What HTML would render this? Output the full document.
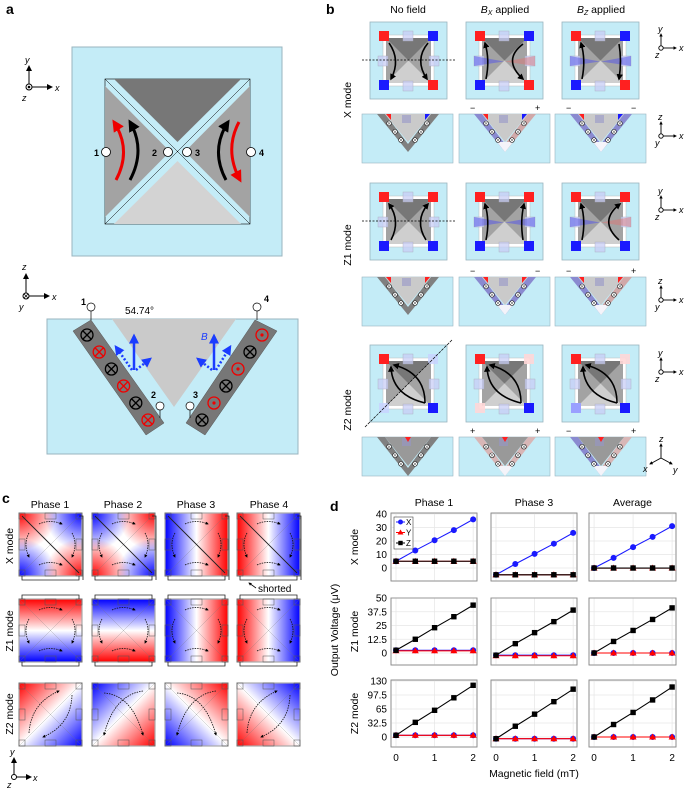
<!DOCTYPE html>
<html><head><meta charset="utf-8">
<style>
html,body{margin:0;padding:0;background:#fff;}
svg{display:block;font-family:"Liberation Sans",sans-serif;}
</style></head>
<body>
<svg id="fig" width="685" height="788" viewBox="0 0 685 788" xmlns="http://www.w3.org/2000/svg">
<defs>
  <marker id="ah" markerWidth="6" markerHeight="6" refX="5" refY="3" orient="auto"><path d="M0,0 L6,3 L0,6z" fill="#000"/></marker>
  <marker id="ahr" markerWidth="4" markerHeight="4" refX="3" refY="2" orient="auto"><path d="M0,0 L4,2 L0,4z" fill="#e00"/></marker>
  <marker id="ahk" markerWidth="4" markerHeight="4" refX="3" refY="2" orient="auto"><path d="M0,0 L4,2 L0,4z" fill="#000"/></marker>
  <marker id="ahb" markerWidth="4" markerHeight="4" refX="3" refY="2" orient="auto"><path d="M0,0 L4,2 L0,4z" fill="#1a3cff"/></marker>
</defs>

<!-- ===== Panel a ===== -->
<g>
  <text x="6" y="14" font-size="14" font-weight="bold">a</text>
  <g stroke="#000" stroke-width="1">
    <line x1="29" y1="87" x2="29" y2="66" marker-end="url(#ah)"/>
    <line x1="29" y1="87" x2="52" y2="87" marker-end="url(#ah)"/>
    <circle cx="29" cy="87" r="3" fill="#fff"/><circle cx="29" cy="87" r="0.8" fill="#000"/>
  </g>
  <text x="25" y="63" font-size="9" font-style="italic">y</text>
  <text x="55" y="91" font-size="9" font-style="italic">x</text>
  <text x="22" y="101" font-size="9" font-style="italic">z</text>
  <rect x="72" y="47" width="210" height="209" fill="#c4ecf7" stroke="#9ab5bf"/>
  <rect x="105" y="79" width="145" height="145" fill="#c4ecf7" stroke="#000" stroke-width="0.6"/>
  <polygon points="114,79 241,79 177.5,142" fill="#777"/>
  <polygon points="114,224 241,224 177.5,161" fill="#d3d3d3"/>
  <polygon points="105,86 105,217 170,151.5" fill="#a3a3a3"/>
  <polygon points="250,86 250,217 185,151.5" fill="#a3a3a3"/>
  <line x1="105" y1="79" x2="250" y2="224" stroke="#000" stroke-width="0.5"/>
  <line x1="250" y1="79" x2="105" y2="224" stroke="#000" stroke-width="0.5"/>
  <path d="M116,180 Q132,150 114,122" fill="none" stroke="#e00" stroke-width="3" marker-end="url(#ahr)"/>
  <path d="M130,180 Q146,150 130,122" fill="none" stroke="#000" stroke-width="3" marker-end="url(#ahk)"/>
  <path d="M226,180 Q210,150 228,122" fill="none" stroke="#000" stroke-width="3" marker-end="url(#ahk)"/>
  <path d="M239,122 Q224,150 240,180" fill="none" stroke="#e00" stroke-width="3" marker-end="url(#ahr)"/>
  <g fill="#fff" stroke="#000" stroke-width="0.8">
    <circle cx="106" cy="152" r="4.5"/><circle cx="168" cy="152" r="4.5"/><circle cx="187" cy="152" r="4.5"/><circle cx="251" cy="152" r="4.5"/>
  </g>
  <g font-size="9" font-weight="bold">
    <text x="94" y="156">1</text><text x="152" y="156">2</text><text x="195" y="156">3</text><text x="259" y="156">4</text>
  </g>

  <g stroke="#000" stroke-width="1">
    <line x1="26" y1="296" x2="26" y2="274" marker-end="url(#ah)"/>
    <line x1="26" y1="296" x2="49" y2="296" marker-end="url(#ah)"/>
    <circle cx="26" cy="296" r="3" fill="#fff"/>
    <line x1="24" y1="294" x2="28" y2="298" stroke-width="0.7"/><line x1="28" y1="294" x2="24" y2="298" stroke-width="0.7"/>
  </g>
  <text x="22" y="270" font-size="9" font-style="italic">z</text>
  <text x="52" y="300" font-size="9" font-style="italic">x</text>
  <text x="19" y="310" font-size="9" font-style="italic">y</text>
  <rect x="47" y="319" width="251" height="135" fill="#c4ecf7" stroke="#9ab5bf"/>
  <polygon points="112,319 236,319 174,407" fill="#cacaca"/>
  <polygon points="73,331 91,320 164,423 146,435" fill="#777" stroke="#555" stroke-width="0.5"/>
  <polygon points="255,320 277,331 205,435 186,423" fill="#777" stroke="#555" stroke-width="0.5"/>
  <g id="crossCircles"></g>
  <g stroke="#1a3cff" stroke-width="2.5">
    <line x1="134" y1="370" x2="134" y2="336" marker-end="url(#ahb)"/>
    <line x1="214" y1="370" x2="214" y2="336" marker-end="url(#ahb)"/>
    <line x1="132" y1="370" x2="116" y2="347" stroke-dasharray="2,2" marker-end="url(#ahb)"/>
    <line x1="136" y1="370" x2="150" y2="359" stroke-dasharray="2,2" marker-end="url(#ahb)"/>
    <line x1="216" y1="370" x2="230" y2="347" stroke-dasharray="2,2" marker-end="url(#ahb)"/>
    <line x1="212" y1="370" x2="198" y2="359" stroke-dasharray="2,2" marker-end="url(#ahb)"/>
  </g>
  <text x="201" y="340" font-size="10" font-style="italic" fill="#1a3cff">B</text>
  <text x="125" y="314" font-size="10">54.74°</text>
  <g stroke="#000" stroke-width="0.7" fill="#fff">
    <line x1="91" y1="311" x2="91" y2="320"/><circle cx="91" cy="307" r="4"/>
    <line x1="257" y1="311" x2="257" y2="320"/><circle cx="257" cy="307" r="4"/>
    <line x1="160" y1="410" x2="160" y2="418"/><circle cx="160" cy="406" r="4"/>
    <line x1="190" y1="410" x2="190" y2="418"/><circle cx="190" cy="406" r="4"/>
  </g>
  <g font-size="9" font-weight="bold"><text x="81" y="305">1</text><text x="264" y="302">4</text><text x="151" y="398">2</text><text x="193" y="398">3</text></g>
</g>

<!-- ===== Panel b ===== -->
<g id="panelB">
  <text x="326" y="14" font-size="14" font-weight="bold">b</text>
  <text x="408" y="13" font-size="10.5" text-anchor="middle">No field</text>
  <text x="505" y="13" font-size="10.5" text-anchor="middle"><tspan font-style="italic">B</tspan><tspan font-size="7" dy="2" font-style="italic">X</tspan><tspan dy="-2"> applied</tspan></text>
  <text x="601" y="13" font-size="10.5" text-anchor="middle"><tspan font-style="italic">B</tspan><tspan font-size="7" dy="2" font-style="italic">Z</tspan><tspan dy="-2"> applied</tspan></text>
  <text transform="translate(351,100) rotate(-90)" font-size="10.5" text-anchor="middle">X mode</text>
  <text transform="translate(351,245) rotate(-90)" font-size="10.5" text-anchor="middle">Z1 mode</text>
  <text transform="translate(351,410) rotate(-90)" font-size="10.5" text-anchor="middle">Z2 mode</text>
</g>

<!-- ===== Panel c ===== -->
<g id="panelC">
  <text x="2" y="503" font-size="14" font-weight="bold">c</text>
  <text x="50" y="508" font-size="10.5" text-anchor="middle">Phase 1</text>
  <text x="123" y="508" font-size="10.5" text-anchor="middle">Phase 2</text>
  <text x="196" y="508" font-size="10.5" text-anchor="middle">Phase 3</text>
  <text x="269" y="508" font-size="10.5" text-anchor="middle">Phase 4</text>
  <text transform="translate(13,546) rotate(-90)" font-size="10.5" text-anchor="middle">X mode</text>
  <text transform="translate(13,631) rotate(-90)" font-size="10.5" text-anchor="middle">Z1 mode</text>
  <text transform="translate(13,714) rotate(-90)" font-size="10.5" text-anchor="middle">Z2 mode</text>
  <text x="258" y="592" font-size="10">shorted</text>
  <line x1="256" y1="588" x2="249" y2="583" stroke="#000" stroke-width="0.8" marker-end="url(#ahk)"/>
  <g stroke="#000" stroke-width="1">
    <line x1="14" y1="777" x2="14" y2="758" marker-end="url(#ah)"/>
    <line x1="14" y1="777" x2="31" y2="777" marker-end="url(#ah)"/>
    <circle cx="14" cy="777" r="2.5" fill="#fff"/>
  </g>
  <text x="10" y="755" font-size="9" font-style="italic">y</text>
  <text x="33" y="781" font-size="9" font-style="italic">x</text>
  <text x="7" y="788" font-size="9" font-style="italic">z</text>
</g>

<!-- ===== Panel d ===== -->
<g id="panelD">
  <text x="330" y="511" font-size="14" font-weight="bold">d</text>
  <text transform="translate(338,630) rotate(-90)" font-size="10.5" text-anchor="middle">Output Voltage (μV)</text>
  <text x="534" y="777" font-size="10.5" text-anchor="middle">Magnetic field (mT)</text>
</g>
</svg>

<script>
// ---------- Panel d data ----------
const fieldValues = [0, 0.5, 1, 1.5, 2];
const colTitles = ["Phase 1", "Phase 3", "Average"];
const rowTitles = ["X mode", "Z1 mode", "Z2 mode"];
const xTickLabels = [0, 1, 2];
const yTicksX = [0, 10, 20, 30, 40];
const yTicksZ1 = [0, 12.5, 25, 37.5, 50];
const yTicksZ2 = [0, 32.5, 65, 97.5, 130];
// X mode
const xModeP1_X = [5, 13, 20.5, 28, 36];
const xModeP1_Y = [5, 5, 5, 5, 5];
const xModeP1_Z = [5, 5, 5, 5, 5];
const xModeP3_X = [-5, 3, 10.5, 18, 26];
const xModeP3_Y = [-5, -5, -5, -5, -5];
const xModeP3_Z = [-5, -5, -5, -5, -5];
const xModeAv_X = [0, 7.5, 15.5, 23, 31];
const xModeAv_Y = [0, 0, 0, 0, 0];
const xModeAv_Z = [0, 0, 0, 0, 0];
// Z1 mode
const z1P1_X = [2.5, 2.5, 2.5, 2.5, 2.5];
const z1P1_Y = [2, 2, 2, 2, 2];
const z1P1_Z = [2.5, 12.5, 23, 33, 43.5];
const z1P3_X = [-2, -2, -2, -2, -2];
const z1P3_Y = [-2.5, -2.5, -2.5, -2.5, -2.5];
const z1P3_Z = [-2, 8.5, 18.5, 28.5, 39];
const z1Av_X = [0, 0, 0, 0, 0];
const z1Av_Y = [0, 0, 0, 0, 0];
const z1Av_Z = [0, 10.5, 20.5, 30.5, 41];
// Z2 mode
const z2P1_X = [4, 4, 4, 4, 4];
const z2P1_Y = [4, 4, 4, 4, 4];
const z2P1_Z = [4, 34, 62, 91, 120];
const z2P3_X = [-4, -4, -4, -4, -4];
const z2P3_Y = [-4, -4, -4, -4, -4];
const z2P3_Z = [-4, 25, 53, 82, 111];
const z2Av_X = [0, 0, 0, 0, 0];
const z2Av_Y = [0, 0, 0, 0, 0];
const z2Av_Z = [0, 29, 57, 86, 116];
const seriesNames = ["X", "Y", "Z"];

const NS = "http://www.w3.org/2000/svg";
function mk(tag, attrs, parent) {
  const e = document.createElementNS(NS, tag);
  for (const k in attrs) e.setAttribute(k, attrs[k]);
  parent.appendChild(e);
  return e;
}

const panelD = document.getElementById("panelD");
const colX = [[391, 477], [491, 577], [589, 676]];
const rowY = [[513, 581], [598, 665], [680, 747]];
const yDom = [[-9.6, 40.7], [-10.9, 50], [-23.2, 132.3]];
const yTickSets = [yTicksX, yTicksZ1, yTicksZ2];
const data = [
  [[xModeP1_X, xModeP1_Y, xModeP1_Z], [xModeP3_X, xModeP3_Y, xModeP3_Z], [xModeAv_X, xModeAv_Y, xModeAv_Z]],
  [[z1P1_X, z1P1_Y, z1P1_Z], [z1P3_X, z1P3_Y, z1P3_Z], [z1Av_X, z1Av_Y, z1Av_Z]],
  [[z2P1_X, z2P1_Y, z2P1_Z], [z2P3_X, z2P3_Y, z2P3_Z], [z2Av_X, z2Av_Y, z2Av_Z]]
];
const colors = ["#1a1aff", "#ff0000", "#000"];
const xDom = [-0.13, 2.1];

for (let c = 0; c < 3; c++) {
  const t = mk("text", {x: (colX[c][0] + colX[c][1]) / 2, y: 506, "font-size": 10.5, "text-anchor": "middle"}, panelD);
  
  
  t.textContent = colTitles[c];
}
for (let r = 0; r < 3; r++) {
  const t = mk("text", {transform: `translate(358,${(rowY[r][0] + rowY[r][1]) / 2}) rotate(-90)`, "font-size": 10.5, "text-anchor": "middle"}, panelD);
  
  
  t.textContent = rowTitles[r];
  for (let c = 0; c < 3; c++) {
    const [x0, x1] = colX[c], [y0, y1] = rowY[r];
    const sx = v => x0 + (v - xDom[0]) / (xDom[1] - xDom[0]) * (x1 - x0);
    const sy = v => y1 - (v - yDom[r][0]) / (yDom[r][1] - yDom[r][0]) * (y1 - y0);
    const g = mk("g", {}, panelD);
    
    
    mk("rect", {x: x0, y: y0, width: x1 - x0, height: y1 - y0, fill: "#fff", stroke: "#888", "stroke-width": 0.8}, g);
    xTickLabels.forEach(v => {
      const gl = mk("line", {x1: sx(v), x2: sx(v), y1: y0, y2: y1, stroke: "#e6e6e6", "stroke-width": 0.7}, g);
      
      
      if (r === 2) {
        const tl = mk("text", {x: sx(v), y: 761, "font-size": 10, "text-anchor": "middle"}, g);
        
        
        tl.textContent = v;
      }
    });
    yTickSets[r].forEach(v => {
      const gl = mk("line", {x1: x0, x2: x1, y1: sy(v), y2: sy(v), stroke: "#e6e6e6", "stroke-width": 0.7}, g);
      
      
      if (c === 0) {
        const tl = mk("text", {x: x0 - 4, y: sy(v) + 3.5, "font-size": 10, "text-anchor": "end"}, g);
        
        
        tl.textContent = v;
      }
    });
    mk("rect", {x: x0, y: y0, width: x1 - x0, height: y1 - y0, fill: "none", stroke: "#888", "stroke-width": 0.8}, g);
    data[r][c].forEach((ser, si) => {
      const pts = ser.map((v, i) => sx(fieldValues[i]) + "," + sy(v)).join(" ");
      const ln = mk("polyline", {points: pts, fill: "none", stroke: colors[si], "stroke-width": 1.1}, g);
      
      
      ser.forEach((v, i) => {
        const px = sx(fieldValues[i]), py = sy(v);
        let m;
        if (si === 0) m = mk("circle", {cx: px, cy: py, r: 3, fill: colors[0]}, g);
        else if (si === 1) m = mk("polygon", {points: `${px},${py - 3.5} ${px - 3.5},${py + 2.5} ${px + 3.5},${py + 2.5}`, fill: colors[1]}, g);
        else m = mk("rect", {x: px - 2.7, y: py - 2.7, width: 5.4, height: 5.4, fill: colors[2]}, g);
        
        
      });
    });
  }
}
// legend
{
  const lg = mk("g", {}, panelD);
  
  
  mk("rect", {x: 394, y: 517, width: 19, height: 32, fill: "#fff", stroke: "#444", "stroke-width": 0.6}, lg);
  seriesNames.forEach((n, i) => {
    const yy = 522 + i * 10.5;
    const e = mk("g", {}, lg);
    
    
    mk("line", {x1: 396, x2: 405, y1: yy, y2: yy, stroke: colors[i], "stroke-width": 1}, e);
    if (i === 0) mk("circle", {cx: 400.5, cy: yy, r: 2.5, fill: colors[0]}, e);
    else if (i === 1) mk("polygon", {points: `400.5,${yy - 3} 397.5,${yy + 2} 403.5,${yy + 2}`, fill: colors[1]}, e);
    else mk("rect", {x: 398.3, y: yy - 2.2, width: 4.4, height: 4.4, fill: "#000"}, e);
    const t = mk("text", {x: 406, y: yy + 3, "font-size": 8}, e);
    t.textContent = n;
  });
}

// ---------- Panel a current symbols ----------
{
  const g = document.getElementById("crossCircles");
  for (let i = 0; i < 6; i++) {
    const f = i / 5;
    const lx = 87 + f * 61, ly = 335 + f * 85;
    const rx = 262 - f * 60, ry = 335 + f * 85;
    const lc = i % 2 ? "#e00" : "#000";
    const rc = i % 2 ? "#000" : "#e00";
    const a = mk("circle", {cx: lx, cy: ly, r: 6, fill: "none", stroke: lc, "stroke-width": 1.3}, g);
    
    
    mk("path", {d: `M${lx - 4},${ly - 4}L${lx + 4},${ly + 4}M${lx + 4},${ly - 4}L${lx - 4},${ly + 4}`, stroke: lc, "stroke-width": 1.3}, g);
    const b = mk("circle", {cx: rx, cy: ry, r: 6, fill: "none", stroke: rc, "stroke-width": 1.3}, g);
    
    
    if (i % 2) mk("path", {d: `M${rx - 4},${ry - 4}L${rx + 4},${ry + 4}M${rx + 4},${ry - 4}L${rx - 4},${ry + 4}`, stroke: rc, "stroke-width": 1.3}, g);
    else mk("circle", {cx: rx, cy: ry, r: 1.6, fill: rc}, g);
  }
}

// ---------- Panel b ----------
{
  const pb = document.getElementById("panelB");
  const cols = [370, 466, 562];
  const csCols = [362, 459, 555];
  const topY = [22, 183, 345];
  const csY = [114, 277, 437];
  const R = "#ff2020", B = "#1a1aff", F = "rgba(200,210,255,0.8)", FR = "rgba(255,215,215,0.9)";
  // corner pad colors [TL,TR,BL,BR]
  const pads = [
    [[R, B, B, R], [R, B, B, R], [R, B, B, R]],
    [[R, R, B, B], [R, R, B, B], [R, R, B, B]],
    [[R, F, F, B], [R, FR, FR, B], [R, FR, "#9aa0ff", B]]
  ];
  for (let r = 0; r < 3; r++) {
    for (let c = 0; c < 3; c++) {
      const x = cols[c], y = topY[r];
      const g = mk("g", {}, pb);
      
      
      mk("rect", {x: x, y: y, width: 77, height: 77, fill: "#c4ecf7", stroke: "#9ab5bf", "stroke-width": 0.8}, g);
      mk("rect", {x: x + 13, y: y + 13, width: 51, height: 51, fill: "#fff", stroke: "#bbb", "stroke-width": 0.5}, g);
      const ix = x + 16, iy = y + 16, s = 45;
      mk("rect", {x: ix, y: iy, width: s, height: s, fill: "#a3a3a3"}, g);
      mk("polygon", {points: `${ix},${iy} ${ix + s},${iy} ${ix + s / 2},${iy + s / 2}`, fill: "#777"}, g);
      mk("polygon", {points: `${ix},${iy + s} ${ix + s},${iy + s} ${ix + s / 2},${iy + s / 2}`, fill: "#cfcfcf"}, g);
      // mid pads
      [[x + 33, y + 9], [x + 33, y + 59], [x + 8, y + 34], [x + 59, y + 34]].forEach(p => {
        mk("rect", {x: p[0], y: p[1], width: 10, height: 10, fill: "rgba(200,205,245,0.75)", stroke: "#aab", "stroke-width": 0.4}, g);
      });
      if (r < 2 && c > 0) {
        const lc = "rgba(90,90,230,0.55)";
        const rc = (r === 0 && c === 1) || (r === 1 && c === 2) ? "rgba(220,120,120,0.5)" : lc;
        mk("polygon", {points: `${x + 8},${y + 34} ${x + 8},${y + 44} ${x + 38},${y + 39.5}`, fill: lc}, g);
        mk("polygon", {points: `${x + 69},${y + 34} ${x + 69},${y + 44} ${x + 39},${y + 39.5}`, fill: rc}, g);
      }
      const pc = pads[r][c];
      [[x + 9, y + 9], [x + 58, y + 9], [x + 9, y + 58], [x + 58, y + 58]].forEach((p, i) => {
        const pad = mk("rect", {x: p[0], y: p[1], width: 10, height: 10, fill: pc[i]}, g);
        
        
      });
      // arrows
      let paths;
      if (r === 0) paths = c === 0 ? [`M${x + 19},${y + 21} Q${x + 31},${y + 38} ${x + 21},${y + 57}`, `M${x + 58},${y + 21} Q${x + 44},${y + 38} ${x + 57},${y + 57}`]
        : [`M${x + 20},${y + 57} Q${x + 24},${y + 38} ${x + 19},${y + 21}`, c === 1 ? `M${x + 57},${y + 22} Q${x + 36},${y + 38} ${x + 57},${y + 57}` : `M${x + 57},${y + 22} Q${x + 60},${y + 38} ${x + 57},${y + 57}`];
      else if (r === 1) paths = c === 0 ? [`M${x + 21},${y + 57} Q${x + 31},${y + 38} ${x + 19},${y + 21}`, `M${x + 56},${y + 57} Q${x + 44},${y + 38} ${x + 58},${y + 21}`]
        : [`M${x + 20},${y + 57} Q${x + 24},${y + 38} ${x + 19},${y + 21}`, c === 1 ? `M${x + 57},${y + 57} Q${x + 54},${y + 38} ${x + 58},${y + 21}` : `M${x + 57},${y + 57} Q${x + 36},${y + 38} ${x + 58},${y + 21}`];
      else paths = [`M${x + 55},${y + 58} Q${x + 22},${y + 50} ${x + 21},${y + 22}`, `M${x + 55},${y + 58} Q${x + 55},${y + 28} ${x + 24},${y + 20}`];
      paths.forEach(d => {
        const a = mk("path", {d: d, fill: "none", stroke: "#000", "stroke-width": 1.6, "marker-end": "url(#ahk)"}, g);
        
        
      });
      if (c === 0 && r < 2) mk("line", {x1: x - 8, x2: x + 85, y1: y + 38, y2: y + 38, stroke: "#000", "stroke-width": 0.7, "stroke-dasharray": "2,1.5"}, g);
      if (c === 0 && r === 2) mk("line", {x1: x - 5, y1: y + 82, x2: x + 82, y2: y - 5, stroke: "#000", "stroke-width": 0.7, "stroke-dasharray": "3,1"}, g);

      // cross section
      const cx = csCols[c], cy = csY[r], w = 91, h = r === 2 ? 39 : 49;
      const cs = mk("g", {}, pb);
      
      
      mk("rect", {x: cx, y: cy, width: w, height: h, fill: "#c4ecf7", stroke: "#9ab5bf", "stroke-width": 0.6}, cs);
      const tipY = r === 2 ? cy + 39 : cy + 38;
      let armL = "#808080", armR = "#808080";
      if (c > 0) {
        armL = "#8a8ad0"; armR = (r === 0 && c === 1) || (r === 1 && c === 2) ? "#d0a8a8" : "#8a8ad0";
        if (r === 2) { armL = c === 1 ? "#d8b6b6" : "#8a8ad0"; armR = "#d8b6b6"; }
      }
      mk("polygon", {points: `${cx + 15},${cy} ${cx + 23},${cy} ${cx + 46},${tipY - 8} ${cx + 46},${tipY}`, fill: armL}, cs);
      mk("polygon", {points: `${cx + 77},${cy} ${cx + 69},${cy} ${cx + 46},${tipY - 8} ${cx + 46},${tipY}`, fill: armR}, cs);
      if (c > 0) mk("polygon", {points: `${cx + 38},${tipY - 10} ${cx + 54},${tipY - 10} ${cx + 46},${tipY}`, fill: "#f4f4fa"}, cs);
      mk("polygon", {points: `${cx + 23},${cy} ${cx + 69},${cy} ${cx + 46},${tipY - 10}`, fill: r === 2 ? "#999" : "#cacaca"}, cs);
      mk("rect", {x: cx + 40, y: cy + 1, width: 9, height: 8, fill: "rgba(150,150,200,0.6)"}, cs);
      const tri = r === 2 ? [[cx + 43, cy, cx + 49, cy, cx + 46, cy + 5]] :
        [[cx + 24, cy, cx + 29, cy, cx + 29, cy + 6], [cx + 63, cy, cx + 68, cy, cx + 63, cy + 6]];
      const triCol = r === 0 ? [R, B] : [R, R];
      tri.forEach((t, i) => mk("polygon", {points: `${t[0]},${t[1]} ${t[2]},${t[3]} ${t[4]},${t[5]}`, fill: triCol[i] || R}, cs));
      for (let k = 0; k < 3; k++) {
        const f = 0.3 + k * 0.22;
        [[cx + 19 + f * 27, cy + f * (tipY - cy) - 2], [cx + 73 - f * 27, cy + f * (tipY - cy) - 2]].forEach(p => {
          mk("circle", {cx: p[0], cy: p[1], r: 2.4, fill: "#fff", stroke: "#222", "stroke-width": 0.6}, cs);
          mk("path", {d: `M${p[0] - 1.5},${p[1] - 1.5}L${p[0] + 1.5},${p[1] + 1.5}M${p[0] + 1.5},${p[1] - 1.5}L${p[0] - 1.5},${p[1] + 1.5}`, stroke: "#222", "stroke-width": 0.5}, cs);
        });
      }
      if (c > 0) {
        const signs = [["−", "+", "−", "−"], ["−", "−", "−", "+"], ["+", "+", "−", "+"]][r];
        const sl = signs[(c - 1) * 2], sr = signs[(c - 1) * 2 + 1];
        const a = mk("text", {x: cx + 11, y: cy - 3, "font-size": 9}, cs); a.textContent = sl;
        const b = mk("text", {x: cx + 76, y: cy - 3, "font-size": 9}, cs); b.textContent = sr;
      }
    }
    // axes icons
    const ay = [[48, 136], [210, 300], [372, 458]][r];
    ay.forEach((yy, k) => {
      const ax = 661;
      const g = mk("g", {stroke: "#000", "stroke-width": 0.9}, pb);
      
      
      if (r === 2 && k === 1) {
        mk("line", {x1: ax, y1: yy, x2: ax, y2: yy - 14, "marker-end": "url(#ahk)"}, g);
        mk("line", {x1: ax, y1: yy, x2: ax - 11, y2: yy + 6, "marker-end": "url(#ahk)"}, g);
        mk("line", {x1: ax, y1: yy, x2: ax + 11, y2: yy + 6, "marker-end": "url(#ahk)"}, g);
        const t1 = mk("text", {x: ax - 2, y: yy - 16, "font-size": 9, "font-style": "italic", stroke: "none"}, g); t1.textContent = "z";
        const t2 = mk("text", {x: ax - 18, y: yy + 14, "font-size": 9, "font-style": "italic", stroke: "none"}, g); t2.textContent = "x";
        const t3 = mk("text", {x: ax + 12, y: yy + 15, "font-size": 9, "font-style": "italic", stroke: "none"}, g); t3.textContent = "y";
      } else {
        mk("line", {x1: ax, y1: yy, x2: ax, y2: yy - 14, "marker-end": "url(#ahk)"}, g);
        mk("line", {x1: ax, y1: yy, x2: ax + 15, y2: yy, "marker-end": "url(#ahk)"}, g);
        mk("circle", {cx: ax, cy: yy, r: 2.2, fill: "#fff"}, g);
        const t1 = mk("text", {x: ax - 3, y: yy - 16, "font-size": 9, "font-style": "italic", stroke: "none"}, g); t1.textContent = k === 0 ? "y" : "z";
        const t2 = mk("text", {x: ax + 18, y: yy + 3, "font-size": 9, "font-style": "italic", stroke: "none"}, g); t2.textContent = "x";
        const t3 = mk("text", {x: ax - 6, y: yy + 10, "font-size": 9, "font-style": "italic", stroke: "none"}, g); t3.textContent = k === 0 ? "z" : "y";
      }
    });
  }
}

// ---------- Panel c ----------
{
  const pc = document.getElementById("panelC");
  const defs = document.querySelector("defs");
  const tx = [19, 92, 165, 237], ty = [513, 599, 683], S = 63;
  const RED = "#ff0000", BLU = "#0000ff";
  // tile specs: type and colors
  const specs = [
    [["q", RED, BLU, BLU, RED], ["q", BLU, RED, RED, BLU], ["h", BLU, RED], ["h", RED, BLU]],
    [["v", RED, BLU], ["v", BLU, RED], ["h", BLU, RED], ["h", RED, BLU]],
    [["d1", RED, BLU], ["d1", BLU, RED], ["d2", RED, BLU], ["d2", BLU, RED]]
  ];
  let gid = 0;
  function lin(x1, y1, x2, y2, ca, cb) {
    const id = "lg" + (gid++);
    const g = mk("linearGradient", {id: id, x1: x1, y1: y1, x2: x2, y2: y2}, defs);
    mk("stop", {offset: "0", "stop-color": ca}, g);
    mk("stop", {offset: "0.5", "stop-color": "#fff"}, g);
    mk("stop", {offset: "1", "stop-color": cb}, g);
    return id;
  }
  function rad(cx, cy, col) {
    const id = "rg" + (gid++);
    const g = mk("radialGradient", {id: id, cx: cx, cy: cy, r: 0.6}, defs);
    mk("stop", {offset: "0", "stop-color": col, "stop-opacity": 1}, g);
    mk("stop", {offset: "1", "stop-color": col, "stop-opacity": 0}, g);
    return id;
  }
  for (let r = 0; r < 3; r++) for (let c = 0; c < 4; c++) {
    const x = tx[c], y = ty[r], sp = specs[r][c];
    const g = mk("g", {}, pc);
    
    
    mk("rect", {x: x, y: y, width: S, height: S, fill: "#fff"}, g);
    if (sp[0] === "q") {
      [[0, 0, sp[1]], [1, 0, sp[2]], [0, 1, sp[3]], [1, 1, sp[4]]].forEach(q => {
        mk("rect", {x: x, y: y, width: S, height: S, fill: `url(#${rad(q[0], q[1], q[2])})`}, g);
      });
    } else if (sp[0] === "h") mk("rect", {x: x, y: y, width: S, height: S, fill: `url(#${lin(0, 0, 1, 0, sp[1], sp[2])})`}, g);
    else if (sp[0] === "v") mk("rect", {x: x, y: y, width: S, height: S, fill: `url(#${lin(0, 0, 0, 1, sp[1], sp[2])})`}, g);
    else if (sp[0] === "d1") mk("rect", {x: x, y: y, width: S, height: S, fill: `url(#${lin(0, 0, 1, 1, sp[1], sp[2])})`}, g);
    else mk("rect", {x: x, y: y, width: S, height: S, fill: `url(#${lin(1, 0, 0, 1, sp[1], sp[2])})`}, g);
    mk("rect", {x: x, y: y, width: S, height: S, fill: "none", stroke: "#aaa", "stroke-width": 1.2}, g);
    mk("path", {d: `M${x},${y}L${x + S},${y + S}M${x + S},${y}L${x},${y + S}`, stroke: "rgba(120,120,120,0.5)", "stroke-width": 0.5}, g);
    [[x, y], [x + S - 6, y], [x, y + S - 6], [x + S - 6, y + S - 6]].forEach(p => mk("rect", {x: p[0], y: p[1], width: 6, height: 6, fill: "none", stroke: "#555", "stroke-width": 0.5}, g));
    [[x + 26, y], [x + 26, y + S - 6], [x, y + 26], [x + S - 6, y + 26]].forEach(p => mk("rect", {x: p[0], y: p[1], width: p[0] === x || p[0] === x + S - 6 ? 6 : 11, height: p[0] === x || p[0] === x + S - 6 ? 11 : 6, fill: "none", stroke: "#555", "stroke-width": 0.5}, g));
    if (r === 0) mk("line", {x1: x + 3, y1: y + 3, x2: x + S - 3, y2: y + S - 3, stroke: "#222", "stroke-width": 0.9}, g);
    // dashed arrows
    let ds;
    if (r === 2) ds = (c === 0 || c === 3) ? [`M${x + 10},${y + 50} Q${x + 12},${y + 20} ${x + 40},${y + 8}`, `M${x + 53},${y + 12} Q${x + 52},${y + 42} ${x + 24},${y + 54}`]
      : [`M${x + 12},${y + 10} Q${x + 40},${y + 12} ${x + 51},${y + 52}`, `M${x + 51},${y + 8} Q${x + 22},${y + 12} ${x + 12},${y + 52}`];
    else ds = [`M${x + 10},${y + 20} Q${x + 4},${y + 31} ${x + 10},${y + 44}`, `M${x + 53},${y + 20} Q${x + 59},${y + 31} ${x + 53},${y + 44}`,
      `M${x + 20},${y + 52} Q${x + 31},${y + 47} ${x + 43},${y + 52}`, `M${x + 20},${y + 11} Q${x + 31},${y + 6} ${x + 43},${y + 11}`];
    ds.forEach(d => mk("path", {d: d, fill: "none", stroke: "#111", "stroke-width": 0.8, "stroke-dasharray": "1.5,1", "marker-end": "url(#ahk)"}, g));
    // brackets
    if (r < 2) mk("path", {d: `M${x + 3},${y + S}v4h${S - 6}v-4`, fill: "none", stroke: "#222", "stroke-width": 0.8}, g);
    if (r === 1) mk("path", {d: `M${x + 3},${y}v-4h${S - 6}v4`, fill: "none", stroke: "#222", "stroke-width": 0.8}, g);
    if (r === 0) mk("path", {d: `M${x + S - 3},${y + 3}h4v${S + 1}`, fill: "none", stroke: "#222", "stroke-width": 0.8}, g);
  }
}
</script>
</body></html>
